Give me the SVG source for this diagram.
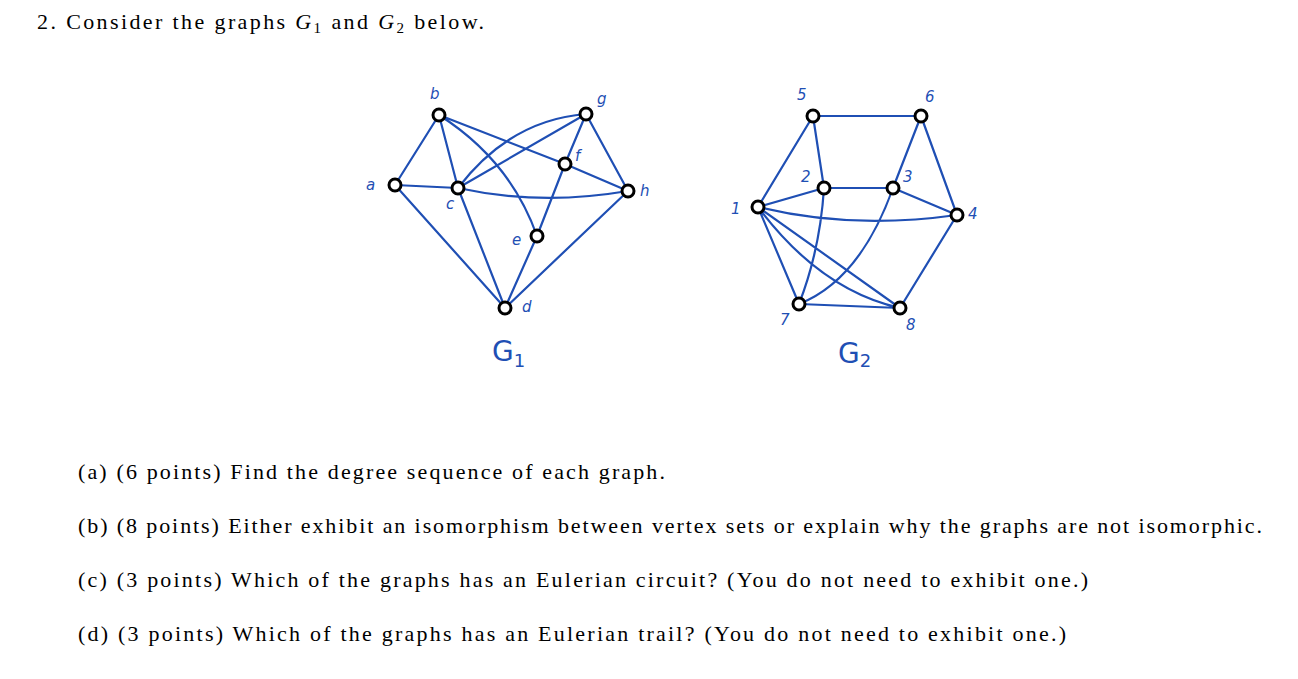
<svg xmlns="http://www.w3.org/2000/svg" width="1298" height="679" viewBox="0 0 1298 679">
<style>
.t{font-family:"Liberation Serif",serif;font-size:22px;fill:#000}
.e{stroke:#1f4fb4;stroke-width:2.2;fill:none}
.n{fill:#fff;stroke:#000;stroke-width:3}
.l{font-family:"DejaVu Sans",sans-serif;fill:#1f4fb4;font-size:15px;font-style:italic}
.g{font-family:"DejaVu Sans",sans-serif;fill:#1f4fb4;font-size:28px}
</style>
<rect width="1298" height="679" fill="#fff"/>
<text class="t" x="37" y="29" textLength="447" lengthAdjust="spacing">2. Consider the graphs <tspan font-style="italic">G</tspan><tspan font-size="15" dy="4">1</tspan><tspan dy="-4"> and </tspan><tspan font-style="italic">G</tspan><tspan font-size="15" dy="4">2</tspan><tspan dy="-4"> below.</tspan></text>
<text class="t" x="78" y="479" textLength="587" lengthAdjust="spacing">(a)  (6 points)  Find the degree sequence of each graph.</text>
<text class="t" x="78" y="533" textLength="1184" lengthAdjust="spacing">(b)  (8 points)  Either exhibit an isomorphism between vertex sets or explain why the graphs are not isomorphic.</text>
<text class="t" x="78" y="587" textLength="1010" lengthAdjust="spacing">(c)  (3 points)  Which of the graphs has an Eulerian circuit? (You do not need to exhibit one.)</text>
<text class="t" x="78" y="641" textLength="988" lengthAdjust="spacing">(d)  (3 points)  Which of the graphs has an Eulerian trail? (You do not need to exhibit one.)</text>
<g id="edges1">
<path class="e" d="M395 185L439 115M439 115L458 188M439 115Q510 160 537 236M439 115L565 164M565 164L628 191M395 185L458 188M458 188Q540 206 628 191M395 185L505 308M458 188L505 308M458 188Q510 120 586 114M458 188L586 114M586 114L565 164M586 114L628 191M565 164L537 236M537 236L505 308M628 191L505 308"/>
</g>
<g id="edges2">
<path class="e" d="M813 116L921 116M813 116L758 207M813 116L824 188M921 116L893 188M921 116L957 215M824 188L893 188M758 207L824 188M893 188L957 215M758 207Q850 230 957 215M824 188Q820 250 799 304M893 188Q860 280 799 304M758 207L799 304M758 207L900 308M758 207Q820 290 900 308M957 215L900 308M799 304L900 308"/>
</g>
<g id="a"><circle class="n" cx="395" cy="185" r="6"/><text class="l" x="366" y="190">a</text></g>
<g id="b"><circle class="n" cx="439" cy="115" r="6"/><text class="l" x="430" y="99">b</text></g>
<g id="c"><circle class="n" cx="458" cy="188" r="6"/><text class="l" x="446" y="209">c</text></g>
<g id="d"><circle class="n" cx="505" cy="308" r="6"/><text class="l" x="522" y="312">d</text></g>
<g id="e"><circle class="n" cx="537" cy="236" r="6"/><text class="l" x="512" y="245">e</text></g>
<g id="f"><circle class="n" cx="565" cy="164" r="6"/><text class="l" x="575" y="161">f</text></g>
<g id="g"><circle class="n" cx="586" cy="114" r="6"/><text class="l" x="597" y="104">g</text></g>
<g id="h"><circle class="n" cx="628" cy="191" r="6"/><text class="l" x="640" y="196">h</text></g>
<text class="g" x="492" y="361">G<tspan font-size="18" dy="6">1</tspan></text>
<g id="n1"><circle class="n" cx="758" cy="207" r="6"/><text class="l" x="731" y="214">1</text></g>
<g id="n2"><circle class="n" cx="824" cy="188" r="6"/><text class="l" x="801" y="182">2</text></g>
<g id="n3"><circle class="n" cx="893" cy="188" r="6"/><text class="l" x="903" y="182">3</text></g>
<g id="n4"><circle class="n" cx="957" cy="215" r="6"/><text class="l" x="968" y="219">4</text></g>
<g id="n5"><circle class="n" cx="813" cy="116" r="6"/><text class="l" x="797" y="100">5</text></g>
<g id="n6"><circle class="n" cx="921" cy="116" r="6"/><text class="l" x="925" y="102">6</text></g>
<g id="n7"><circle class="n" cx="799" cy="304" r="6"/><text class="l" x="780" y="325">7</text></g>
<g id="n8"><circle class="n" cx="900" cy="308" r="6"/><text class="l" x="906" y="330">8</text></g>
<text class="g" x="838" y="363">G<tspan font-size="18" dy="4">2</tspan></text>
</svg>
